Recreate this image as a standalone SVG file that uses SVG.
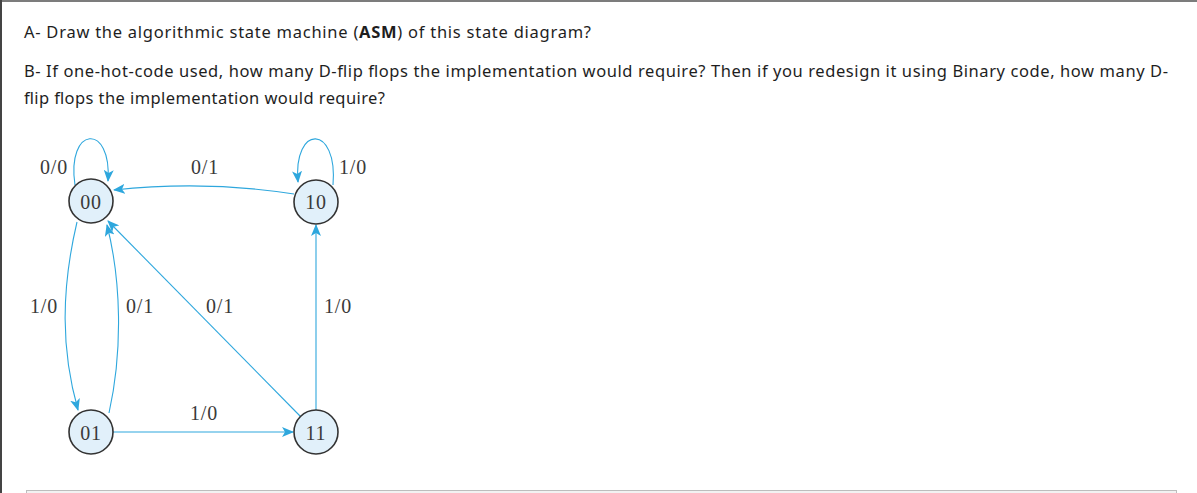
<svg xmlns="http://www.w3.org/2000/svg" width="1197" height="493" viewBox="0 0 1197 493">
<style>
.q{font-family:"Noto Sans","Open Sans",sans-serif;font-size:16.5px;fill:#1e1e1e}
.b{font-weight:bold}
.lbl{font-family:"Liberation Serif","Times New Roman",serif;font-size:20px;fill:#3a3a3a;text-anchor:middle;letter-spacing:0.8px}
.st{fill:#e1f0fa;stroke:#333;stroke-width:1.6}
.e{fill:none;stroke:#2ea7dd;stroke-width:1.1;marker-end:url(#ah)}
</style>
<defs>
<marker id="ah" viewBox="0 0 12 10" refX="11" refY="5" markerWidth="12" markerHeight="10" markerUnits="userSpaceOnUse" orient="auto">
<path d="M0,0 L12,5 L0,10 L3,5 z" fill="#2ea7dd"/>
</marker>
</defs>
<rect width="1197" height="493" fill="#fff"/>
<line x1="0" y1="1" x2="1197" y2="1" stroke="#505050" stroke-width="1.5"/>
<line x1="1" y1="0" x2="1" y2="493" stroke="#444" stroke-width="2"/>
<rect x="26.5" y="490.5" width="1150" height="10" fill="#f2f2f2" stroke="#bdbdbd"/>
<g id="question">
<text class="q" x="24" y="38" textLength="567" lengthAdjust="spacing">A- Draw the algorithmic state machine (<tspan class="b">ASM</tspan>) of this state diagram?</text>
<text class="q" x="24" y="77" textLength="1144" lengthAdjust="spacing">B- If one-hot-code used, how many D-flip flops the implementation would require? Then if you redesign it using Binary code, how many D-</text>
<text class="q" x="24" y="104" textLength="361" lengthAdjust="spacing">flip flops the implementation would require?</text>
</g>
<g id="connectors">
<path class="e" d="M75,185 C66,126 112,122 108,181"/>
<path class="e" d="M333,185 C338,124 293,124 298,182"/>
<path class="e" d="M294,194 Q205,180 114,190"/>
<path class="e" d="M77,222 C61,290 61,350 78,410"/>
<path class="e" d="M109,413 C123,350 121,280 107,225"/>
<path class="e" d="M301,417 L108,221"/>
<path class="e" d="M316,410 L316,225"/>
<path class="e" d="M113,432 L293,432"/>
</g>
<g id="labels">
<text class="lbl" x="54" y="174">0/0</text>
<text class="lbl" x="205" y="174">0/1</text>
<text class="lbl" x="353" y="174">1/0</text>
<text class="lbl" x="44" y="313">1/0</text>
<text class="lbl" x="140" y="313">0/1</text>
<text class="lbl" x="220" y="313">0/1</text>
<text class="lbl" x="338" y="313">1/0</text>
<text class="lbl" x="204" y="420">1/0</text>
</g>
<g id="s00"><circle class="st" cx="91" cy="201" r="22"/><text class="lbl" x="91" y="209">00</text></g>
<g id="s10"><circle class="st" cx="316" cy="202" r="22"/><text class="lbl" x="316" y="209">10</text></g>
<g id="s01"><circle class="st" cx="91" cy="432" r="22"/><text class="lbl" x="91" y="440">01</text></g>
<g id="s11"><circle class="st" cx="316" cy="432" r="22"/><text class="lbl" x="316" y="440">11</text></g>
</svg>
